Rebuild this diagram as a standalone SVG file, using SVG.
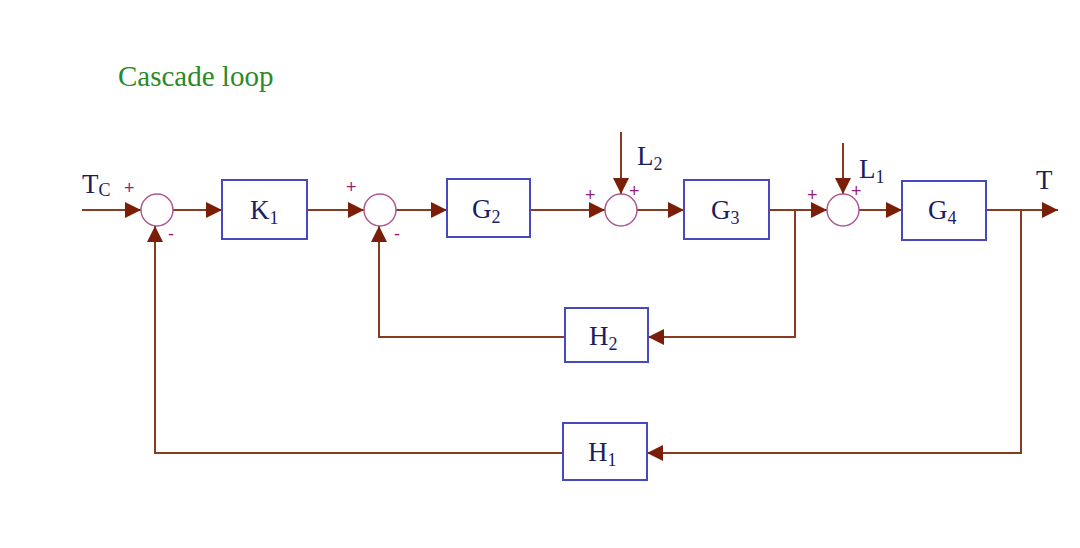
<svg xmlns="http://www.w3.org/2000/svg" width="1080" height="548" viewBox="0 0 1080 548">
<defs>
<marker id="a" viewBox="0 0 10 10" refX="10" refY="5" markerWidth="20" markerHeight="16" markerUnits="userSpaceOnUse" orient="auto"><path d="M0,0L10,5L0,10z" fill="#7a1e08"/></marker>
</defs>
<style>
.w{stroke:#8a3a20;stroke-width:2;fill:none}
.b{fill:#fff;stroke:#4848c0;stroke-width:2}
.s{fill:#fff;stroke:#b05890;stroke-width:1.5}
.t{font-family:"Liberation Serif",serif;font-size:27px;fill:#1c1c60}
.sub{font-size:18px}
.p{font-family:"Liberation Sans",sans-serif;font-size:18px;fill:#902080}
</style>
<rect width="1080" height="548" fill="#fff"/>
<text x="118" y="86" font-family="Liberation Serif,serif" font-size="29" fill="#2a8a2a">Cascade loop</text>
<g id="connectors" class="w">
<path d="M82,210H141" marker-end="url(#a)"/>
<path d="M173,210H222" marker-end="url(#a)"/>
<path d="M307,210H364" marker-end="url(#a)"/>
<path d="M396,210H447" marker-end="url(#a)"/>
<path d="M530,210H605" marker-end="url(#a)"/>
<path d="M637,210H684" marker-end="url(#a)"/>
<path d="M769,210H827" marker-end="url(#a)"/>
<path d="M859,210H902" marker-end="url(#a)"/>
<path d="M986,210H1058" marker-end="url(#a)"/>
<path d="M621,132V194" marker-end="url(#a)"/>
<path d="M843,143V194" marker-end="url(#a)"/>
<path d="M795,210V337H648" marker-end="url(#a)"/>
<path d="M565,337H379V226" marker-end="url(#a)"/>
<path d="M1021,210V453H647" marker-end="url(#a)"/>
<path d="M563,453H155V226" marker-end="url(#a)"/>
</g>
<g id="s1"><circle class="s" cx="157" cy="210" r="16"/><text class="p" x="124" y="194">+</text><text class="p" x="168" y="240">-</text></g>
<g id="s2"><circle class="s" cx="380" cy="210" r="16"/><text class="p" x="346" y="193">+</text><text class="p" x="394" y="240">-</text></g>
<g id="s3"><circle class="s" cx="621" cy="210" r="16"/><text class="p" x="585" y="201">+</text><text class="p" x="629" y="197">+</text></g>
<g id="s4"><circle class="s" cx="843" cy="210" r="16"/><text class="p" x="807" y="201">+</text><text class="p" x="851" y="197">+</text></g>
<g id="K1"><rect class="b" x="222" y="180" width="85" height="59"/><text class="t" x="250" y="219">K<tspan class="sub" dy="5">1</tspan></text></g>
<g id="G2"><rect class="b" x="447" y="179" width="83" height="58"/><text class="t" x="472" y="218">G<tspan class="sub" dy="5">2</tspan></text></g>
<g id="G3"><rect class="b" x="684" y="180" width="85" height="59"/><text class="t" x="711" y="219">G<tspan class="sub" dy="5">3</tspan></text></g>
<g id="G4"><rect class="b" x="902" y="181" width="84" height="59"/><text class="t" x="928" y="219">G<tspan class="sub" dy="5">4</tspan></text></g>
<g id="H2"><rect class="b" x="565" y="308" width="83" height="54"/><text class="t" x="589" y="345">H<tspan class="sub" dy="5">2</tspan></text></g>
<g id="H1"><rect class="b" x="563" y="423" width="84" height="57"/><text class="t" x="588" y="461">H<tspan class="sub" dy="5">1</tspan></text></g>
<g id="labels">
<text class="t" x="82" y="193">T<tspan class="sub" dy="3">C</tspan></text>
<text class="t" x="637" y="165">L<tspan class="sub" dy="5">2</tspan></text>
<text class="t" x="859" y="178">L<tspan class="sub" dy="5">1</tspan></text>
<text class="t" x="1036" y="189">T</text>
</g>
</svg>
